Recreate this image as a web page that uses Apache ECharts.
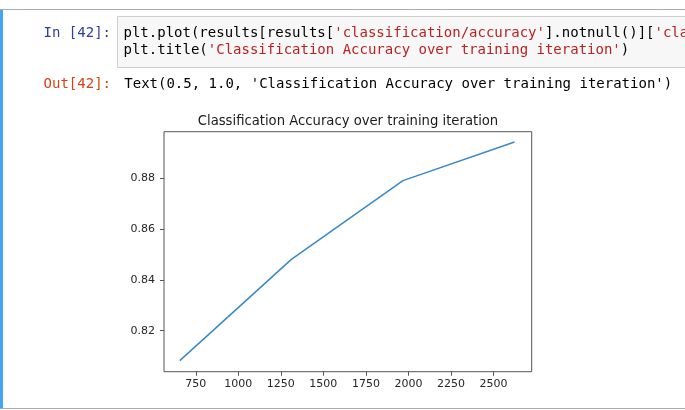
<!DOCTYPE html>
<html>
<head>
<meta charset="utf-8">
<script src="https://cdn.jsdelivr.net/npm/echarts@6/dist/echarts.min.js"></script>
<style>
html,body{margin:0;padding:0;background:#fff;}
#c{width:685px;height:410px;}
</style>
</head>
<body>
<div id="c"></div>
<script>
// ---- data ----
var iterations = [656, 1312, 1968, 2624];
var accuracy = [0.8082, 0.8481, 0.8791, 0.8943];
var xTicks = [750, 1000, 1250, 1500, 1750, 2000, 2250, 2500];
var yTicks = [0.82, 0.84, 0.86, 0.88];
var chartTitle = 'Classification Accuracy over training iteration';
var inPrompt = 'In [42]:';
var outPrompt = 'Out[42]:';
var outText = "Text(0.5, 1.0, 'Classification Accuracy over training iteration')";

var mono = '"DejaVu Sans Mono", "Liberation Mono", monospace';
var sans = '"DejaVu Sans", sans-serif';

var chart = echarts.init(document.getElementById('c'), null, {renderer: 'canvas'});
chart.setOption({
  backgroundColor: '#ffffff',
  animation: false,
  title: {
    text: chartTitle,
    left: 348,
    textAlign: 'center',
    top: 115.5,
    padding: 0,
    textStyle: {fontFamily: sans, fontSize: 13.2, fontWeight: 'normal', color: '#1a1a1a'}
  },
  grid: {
    left: 164, right: 153.3, top: 131.7, bottom: 38.3,
    show: true, borderColor: '#555555', borderWidth: 1, backgroundColor: 'transparent'
  },
  xAxis: {
    type: 'value', min: 563, max: 2725,
    splitLine: {show: false},
    axisLine: {show: false},
    axisTick: {show: true, length: 4, lineStyle: {color: '#555555'}, customValues: xTicks},
    axisLabel: {customValues: xTicks, margin: 7, fontFamily: sans, fontSize: 11, color: '#262626',
      formatter: function (v) { return String(v); }}
  },
  yAxis: {
    type: 'value', min: 0.80386, max: 0.89835,
    splitLine: {show: false},
    axisLine: {show: false},
    axisTick: {show: true, length: 4, lineStyle: {color: '#555555'}, customValues: yTicks},
    axisLabel: {customValues: yTicks, margin: 9, fontFamily: sans, fontSize: 11, color: '#262626',
      formatter: function (v) { return v.toFixed(2); }}
  },
  series: [{
    type: 'line',
    data: iterations.map(function (x, i) { return [x, accuracy[i]]; }),
    showSymbol: false,
    lineStyle: {color: '#3a89c5', width: 1.5},
    itemStyle: {color: '#3a89c5'}
  }],
  graphic: [
    {type: 'rect', silent: true, shape: {x: 0, y: 9, width: 685, height: 1}, style: {fill: '#ababab'}},
    {type: 'rect', silent: true, shape: {x: 0, y: 10, width: 3, height: 398}, style: {fill: '#42a5f5'}},
    {type: 'rect', silent: true, shape: {x: 0, y: 408, width: 685, height: 1}, style: {fill: '#ababab'}},
    {type: 'rect', silent: true, shape: {x: 117.5, y: 16.5, width: 600, height: 51}, style: {fill: '#f7f7f7', stroke: '#cfcfcf', lineWidth: 1}},
    {type: 'text', silent: true, x: 111, y: 33, style: {text: inPrompt, font: '14px ' + mono, fill: '#303f9f', align: 'right', verticalAlign: 'middle'}},
    {type: 'text', silent: true, x: 111, y: 84, style: {text: outPrompt, font: '14px ' + mono, fill: '#d84315', align: 'right', verticalAlign: 'middle'}},
    {type: 'text', silent: true, x: 123.5, y: 33, style: {
      text: "{k|plt.plot(results[results[}{s|'classification/accuracy'}{k|].notnull()][}{s|'cla}",
      font: '14px ' + mono, verticalAlign: 'middle',
      rich: {k: {fill: '#000000', font: '14px ' + mono}, s: {fill: '#ba2121', font: '14px ' + mono}}
    }},
    {type: 'text', silent: true, x: 123.5, y: 50, style: {
      text: "{k|plt.title(}{s|'Classification Accuracy over training iteration'}{k|)}",
      font: '14px ' + mono, verticalAlign: 'middle',
      rich: {k: {fill: '#000000', font: '14px ' + mono}, s: {fill: '#ba2121', font: '14px ' + mono}}
    }},
    {type: 'text', silent: true, x: 124.3, y: 84, style: {text: outText, font: '14px ' + mono, fill: '#000000', verticalAlign: 'middle'}}
  ]
});
</script>
</body>
</html>
